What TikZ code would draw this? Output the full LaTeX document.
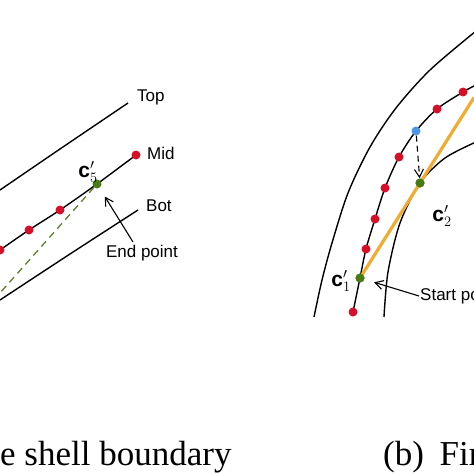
\documentclass[tikz,border=0pt]{standalone}
\usepackage{fontspec}
\setmainfont{Liberation Sans}
\newfontfamily\capfont{Liberation Serif}
\usetikzlibrary{arrows.meta, positioning, calc}
\definecolor{dotred}{RGB}{214, 16, 40}
\definecolor{dotgreen}{RGB}{72, 122, 22}
\definecolor{dotblue}{RGB}{76, 150, 228}
\definecolor{segorange}{RGB}{240, 172, 48}
\definecolor{dashgreen}{RGB}{96, 128, 40}
\newcommand{\cpt}[1]{\textbf{c}${}'_{#1}$}

\begin{document}
\begin{tikzpicture}[x=1pt, y=-1pt,
  dot/.style={circle, fill=#1, inner sep=0pt, minimum size=9pt},
  lbl/.style={font=\fontsize{17}{17}\selectfont, inner sep=1pt},
  cpl/.style={font=\fontsize{21}{21}\selectfont, inner sep=0pt},
  shell/.style={line width=1.4pt},
  pointer/.style={-{Straight Barb[length=8pt, width=9pt]}, line width=1.1pt, shorten >=10pt},
  caption/.style={font=\capfont\fontsize{35}{35}\selectfont, anchor=base west, inner sep=0pt},
]
  \useasboundingbox (0,0) rectangle (474,474);
  \clip (0,0) rectangle (474,474);

  % (a) straight part of the shell
  \coordinate (m0) at (0,250);
  \coordinate (m1) at (29,230);
  \coordinate (m2) at (60,210);
  \coordinate (m3) at (97,184);
  \coordinate (m4) at (136,155);
  \draw[shell] plot[smooth] coordinates {(0,190) (60,149) (128,103)};
  \draw[shell] plot[smooth] coordinates {(m0) (m1) (m2) (m3) (m4)};
  \draw[shell] plot[smooth] coordinates {(0,300) (70,254) (138,210)};

  \node[dot=dotred] (a0) at (m0) {};
  \node[dot=dotred] (a1) at (m1) {};
  \node[dot=dotred] (a2) at (m2) {};
  \node[dot=dotgreen] (a5) at (m3) {};
  \node[dot=dotred] (a6) at (m4) {};

  \node[lbl, anchor=west] (top) at (136,97) {Top};
  \node[lbl, anchor=west] (mid) at (146,153) {Mid};
  \node[lbl, anchor=west] (bot) at (145,206) {Bot};
  \node[lbl] (endpt) at (142,253) {End point};
  \node[cpl] (c5) at (88,172) {\cpt{5}};

  \coordinate (dashend) at (0,293);
  \coordinate (endtail) at (133,242);
  \draw[dashgreen, dash pattern=on 7pt off 5pt, line width=1.3pt] (a5) -- (dashend);
  \draw[pointer] (endtail) -- (a5);

  % (b) bent part of the shell
  \draw[shell] plot[smooth] coordinates {(314,317) (322,280) (332,243) (348,193) (370,147) (396,108) (430,70) (476,31)};
  \draw[shell] plot[smooth] coordinates {(353,312) (360,278) (366,249) (375,219) (385,188) (399,157) (416,131) (437,109) (463,92) (476,85)};
  \draw[shell] plot[smooth] coordinates {(384,317) (388,272) (400,223) (420,183) (445,158) (476,142)};

  \node[dot=dotred] (b0) at (353,312) {};
  \node[dot=dotgreen] (b1) at (360,278) {};
  \node[dot=dotred] (b2) at (366,249) {};
  \node[dot=dotred] (b3) at (375,219) {};
  \node[dot=dotred] (b4) at (385,188) {};
  \node[dot=dotred] (b5) at (399,157) {};
  \node[dot=dotblue] (b6) at (416,131) {};
  \node[dot=dotred] (b7) at (437,109) {};
  \node[dot=dotred] (b8) at (463,92) {};
  \node[dot=dotgreen] (g2) at (420,183) {};

  \draw[segorange, line width=3.2pt] (b1.center) -- ($(b1.center)!1.9!(g2.center)$);
  \node[dot=dotgreen] at (b1) {};
  \node[dot=dotgreen] at (g2) {};
  \draw[pointer, dash pattern=on 6pt off 4pt, shorten >=0pt] (b6) -- (g2);

  \node[cpl] (c1) at (341,281) {\cpt{1}};
  \node[cpl] (c2) at (442,216) {\cpt{2}};
  \node[lbl, anchor=west] (startpt) at (419,296) {Start point};
  \draw[pointer] (startpt.west) -- (b1);

  % captions
  \node[caption] (capa) at (0,465) {e shell boundary};
  \node[caption] (capb) at (383,465) {(b)\hspace{0.45em}Fir};
\end{tikzpicture}
\end{document}
